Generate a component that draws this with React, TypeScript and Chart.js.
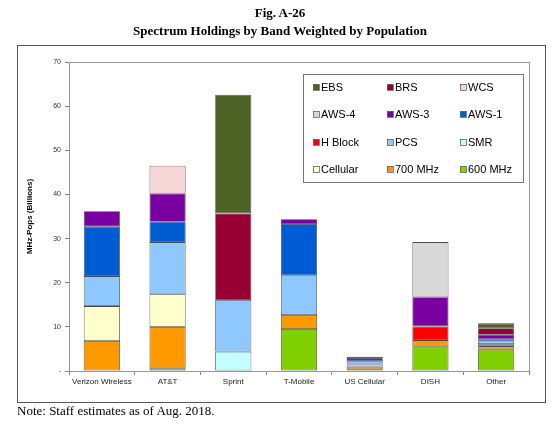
import React, { useEffect, useRef } from "react";
import { Chart, registerables } from "chart.js";

Chart.register(...registerables);

const categories = ["Verizon Wireless", "AT&T", "Sprint", "T-Mobile", "US Cellular", "DISH", "Other"];

// stacking order bottom -> top
const band600 = [0, 0.6, 0, 9.5, 0.4, 5.5, 4.8];
const band700 = [6.8, 9.4, 0, 3.2, 0.6, 1.5, 0.5];
const cellular = [7.9, 7.4, 0, 0, 0.5, 0, 0.4];
const smr = [0, 0, 4.4, 0, 0.2, 0, 0.4];
const pcs = [6.8, 11.8, 11.7, 9.0, 0.5, 0, 0.6];
const hBlock = [0, 0, 0, 0, 0, 3.1, 0];
const aws1 = [11.2, 4.6, 0, 11.6, 0.5, 0, 0.5];
const aws3 = [3.5, 6.4, 0, 1.1, 0.5, 6.6, 1.0];
const aws4 = [0, 0, 0, 0, 0, 12.5, 0];
const wcs = [0, 6.3, 0, 0, 0, 0, 0];
const brs = [0, 0, 19.6, 0, 0, 0, 1.5];
const ebs = [0, 0, 26.9, 0, 0, 0, 1.1];

const seriesLabels = ["600 MHz", "700 MHz", "Cellular", "SMR", "PCS", "H Block", "AWS-1", "AWS-3", "AWS-4", "WCS", "BRS", "EBS"];
const seriesData = [band600, band700, cellular, smr, pcs, hBlock, aws1, aws3, aws4, wcs, brs, ebs];
const seriesColors = [
  "#80D000", "#FF9900", "#FFFFCC", "#C4FFFF", "#8EC8FF", "#FF0000",
  "#005CD2", "#7A00A0", "#D8D8D8", "#F6D6D6", "#990033", "#4E6225",
];

const yTicks = [0, 10, 20, 30, 40, 50, 60, 70];

const FONT = "'Liberation Sans', Arial, sans-serif";
const SERIF = "'Liberation Serif', 'Times New Roman', serif";

const framePlugin = {
  id: "framePlugin",
  afterDraw(chart: any) {
    const { ctx, chartArea } = chart;
    ctx.save();
    // outer frame
    ctx.strokeStyle = "#555";
    ctx.lineWidth = 1;
    ctx.strokeRect(17.5, 45.5, 528, 357);
    // plot border
    ctx.strokeStyle = "#999";
    ctx.strokeRect(
      Math.round(chartArea.left) + 0.5,
      Math.round(chartArea.top) + 0.5,
      Math.round(chartArea.right - chartArea.left),
      Math.round(chartArea.bottom - chartArea.top)
    );
    // legend box
    const lx = 303, ly = 74, lw = 220, lh = 108;
    ctx.fillStyle = "#fff";
    ctx.fillRect(lx, ly, lw, lh);
    ctx.strokeStyle = "#777";
    ctx.strokeRect(lx + 0.5, ly + 0.5, lw, lh);
    const ds = chart.data.datasets.slice().reverse();
    const colX = [313, 387, 460];
    const rowY = [87, 114, 142, 169];
    ctx.font = `11px ${FONT}`;
    ctx.textBaseline = "middle";
    ctx.textAlign = "left";
    ds.forEach((d: any, i: number) => {
      const c = i % 3;
      const r = Math.floor(i / 3);
      const x = colX[c];
      const y = rowY[r];
      ctx.fillStyle = d.backgroundColor;
      ctx.fillRect(x, y - 3, 6, 6);
      ctx.strokeStyle = "#666";
      ctx.lineWidth = 0.8;
      ctx.strokeRect(x + 0.5, y - 2.5, 6, 6);
      ctx.fillStyle = "#000";
      ctx.fillText(d.label, x + 8, y + 0.5);
    });
    ctx.restore();
  },
};

export default function App() {
  const ref = useRef<HTMLCanvasElement | null>(null);

  useEffect(() => {
    if (!ref.current) return;
    const chart = new Chart(ref.current, {
      type: "bar",
      data: {
        labels: categories,
        datasets: seriesLabels.map((label, i) => ({
          label,
          data: seriesData[i].map((v) => (v === 0 ? null : v)),
          backgroundColor: seriesColors[i],
          borderColor: "#4a4a4a",
          borderWidth: 0.8,
          borderSkipped: false,
          categoryPercentage: 1,
          barPercentage: 0.55,
        })),
      },
      options: {
        animation: false,
        responsive: false,
        devicePixelRatio: 1,
        layout: { padding: { top: 62, right: 31, left: 0, bottom: 0 } },
        plugins: {
          legend: { display: false },
          tooltip: { enabled: false },
          title: { display: false },
        },
        scales: {
          x: {
            stacked: true,
            grid: { drawOnChartArea: false, tickLength: 4, color: "#888", offset: true },
            border: { color: "#999" },
            ticks: { font: { size: 8, family: FONT }, color: "#222", padding: 2, maxRotation: 0 },
            afterFit: (s: any) => { s.height = 432 - 371; },
          },
          y: {
            stacked: true,
            min: 0,
            max: 70,
            afterBuildTicks: (s: any) => { s.ticks = yTicks.map((v) => ({ value: v })); },
            grid: { drawOnChartArea: false, tickLength: 4, color: "#888" },
            border: { color: "#999" },
            ticks: {
              font: { size: 7, family: FONT },
              color: "#333",
              padding: 4,
              callback: (v: any) => (Number(v) === 0 ? "-" : String(v)),
            },
            title: {
              display: true,
              text: "MHz-Pops (Billions)",
              font: { size: 8, family: FONT, weight: "bold" },
              color: "#000",
              padding: { top: 25, bottom: 0 },
            },
            afterFit: (s: any) => { s.width = 69; },
          },
        },
      },
      plugins: [framePlugin],
    });
    return () => chart.destroy();
  }, []);

  return (
    <div style={{ position: "fixed", left: 0, top: 0, width: 560, height: 432, background: "#fff", overflow: "hidden" }}>
      <canvas ref={ref} width={560} height={432} style={{ position: "absolute", left: 0, top: 0, width: 560, height: 432 }} />
      <div style={{ position: "absolute", left: 0, top: 4, width: 560, textAlign: "center", fontFamily: SERIF, fontWeight: "bold", fontSize: 13, lineHeight: "18px", color: "#000" }}>
        <div>Fig. A-26</div>
        <div>Spectrum Holdings by Band Weighted by Population</div>
      </div>
      <div style={{ position: "absolute", left: 17, top: 403, fontFamily: SERIF, fontSize: 13, lineHeight: "16px", color: "#000" }}>
        Note: Staff estimates as of Aug. 2018.
      </div>
    </div>
  );
}
